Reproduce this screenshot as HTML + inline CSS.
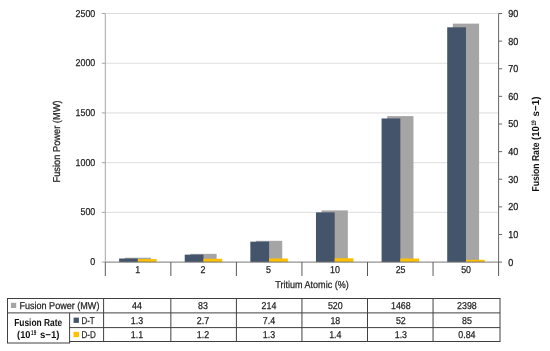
<!DOCTYPE html>
<html lang="en"><head><meta charset="utf-8"><title>Fusion Power vs Tritium Atomic</title>
<style>html,body{margin:0;padding:0;background:#fff}svg{display:block}text{font-family:"Liberation Sans",sans-serif;fill:#1f1f1f;stroke:#1f1f1f;stroke-width:.25px;text-rendering:geometricPrecision}.c{font-size:10.0px}.g{font-size:10.1px;fill:#111}.b{font-weight:bold;stroke-width:0}</style></head><body>
<svg width="550" height="351" viewBox="0 0 550 351">
<rect width="550" height="351" fill="#fff"/>
<line x1="105.3" x2="498.60" y1="212.38" y2="212.38" stroke="#dedede" stroke-width="1"/>
<line x1="105.3" x2="498.60" y1="162.66" y2="162.66" stroke="#dedede" stroke-width="1"/>
<line x1="105.3" x2="498.60" y1="112.94" y2="112.94" stroke="#dedede" stroke-width="1"/>
<line x1="105.3" x2="498.60" y1="63.22" y2="63.22" stroke="#dedede" stroke-width="1"/>
<line x1="105.3" x2="498.60" y1="13.50" y2="13.50" stroke="#dedede" stroke-width="1"/>
<rect x="124.74" y="257.72" width="26.25" height="4.38" fill="#a5a5a5"/>
<rect x="119.11" y="258.51" width="18.75" height="3.59" fill="#44546a"/>
<rect x="137.86" y="259.06" width="18.75" height="3.04" fill="#ffc000"/>
<rect x="190.36" y="253.85" width="26.25" height="8.25" fill="#a5a5a5"/>
<rect x="184.73" y="254.64" width="18.75" height="7.46" fill="#44546a"/>
<rect x="203.48" y="258.79" width="18.75" height="3.31" fill="#ffc000"/>
<rect x="255.98" y="240.82" width="26.25" height="21.28" fill="#a5a5a5"/>
<rect x="250.35" y="241.66" width="18.75" height="20.44" fill="#44546a"/>
<rect x="269.10" y="258.51" width="18.75" height="3.59" fill="#ffc000"/>
<rect x="321.60" y="210.39" width="26.25" height="51.71" fill="#a5a5a5"/>
<rect x="315.97" y="212.38" width="18.75" height="49.72" fill="#44546a"/>
<rect x="334.72" y="258.23" width="18.75" height="3.87" fill="#ffc000"/>
<rect x="387.22" y="116.12" width="26.25" height="145.98" fill="#a5a5a5"/>
<rect x="381.59" y="118.46" width="18.75" height="143.64" fill="#44546a"/>
<rect x="400.34" y="258.51" width="18.75" height="3.59" fill="#ffc000"/>
<rect x="452.84" y="23.64" width="26.25" height="238.46" fill="#a5a5a5"/>
<rect x="447.21" y="27.31" width="18.75" height="234.79" fill="#44546a"/>
<rect x="465.96" y="259.78" width="18.75" height="2.32" fill="#ffc000"/>
<line x1="105.3" x2="105.3" y1="13.5" y2="262.1" stroke="#a6a6a6" stroke-width="1"/>
<line x1="101.8" x2="105.3" y1="262.10" y2="262.10" stroke="#a6a6a6" stroke-width="1"/>
<text class="c" transform="translate(95.30 265.10) scale(0.886 1)" text-anchor="end">0</text>
<line x1="101.8" x2="105.3" y1="212.38" y2="212.38" stroke="#a6a6a6" stroke-width="1"/>
<text class="c" transform="translate(95.30 215.38) scale(0.886 1)" text-anchor="end">500</text>
<line x1="101.8" x2="105.3" y1="162.66" y2="162.66" stroke="#a6a6a6" stroke-width="1"/>
<text class="c" transform="translate(95.30 165.66) scale(0.886 1)" text-anchor="end">1000</text>
<line x1="101.8" x2="105.3" y1="112.94" y2="112.94" stroke="#a6a6a6" stroke-width="1"/>
<text class="c" transform="translate(95.30 115.94) scale(0.886 1)" text-anchor="end">1500</text>
<line x1="101.8" x2="105.3" y1="63.22" y2="63.22" stroke="#a6a6a6" stroke-width="1"/>
<text class="c" transform="translate(95.30 66.22) scale(0.886 1)" text-anchor="end">2000</text>
<line x1="101.8" x2="105.3" y1="13.50" y2="13.50" stroke="#a6a6a6" stroke-width="1"/>
<text class="c" transform="translate(95.30 16.50) scale(0.886 1)" text-anchor="end">2500</text>
<line x1="105.3" x2="498.60" y1="262.1" y2="262.1" stroke="#787878" stroke-width="1"/>
<line x1="498.60" x2="498.60" y1="13.5" y2="262.1" stroke="#666666" stroke-width="1"/>
<line x1="498.60" x2="502.10" y1="262.10" y2="262.10" stroke="#666666" stroke-width="1"/>
<text class="g" transform="translate(508.30 265.50) scale(0.89 1)">0</text>
<line x1="498.60" x2="502.10" y1="234.48" y2="234.48" stroke="#666666" stroke-width="1"/>
<text class="g" transform="translate(508.30 237.88) scale(0.89 1)">10</text>
<line x1="498.60" x2="502.10" y1="206.86" y2="206.86" stroke="#666666" stroke-width="1"/>
<text class="g" transform="translate(508.30 210.26) scale(0.89 1)">20</text>
<line x1="498.60" x2="502.10" y1="179.23" y2="179.23" stroke="#666666" stroke-width="1"/>
<text class="g" transform="translate(508.30 182.63) scale(0.89 1)">30</text>
<line x1="498.60" x2="502.10" y1="151.61" y2="151.61" stroke="#666666" stroke-width="1"/>
<text class="g" transform="translate(508.30 155.01) scale(0.89 1)">40</text>
<line x1="498.60" x2="502.10" y1="123.99" y2="123.99" stroke="#666666" stroke-width="1"/>
<text class="g" transform="translate(508.30 127.39) scale(0.89 1)">50</text>
<line x1="498.60" x2="502.10" y1="96.37" y2="96.37" stroke="#666666" stroke-width="1"/>
<text class="g" transform="translate(508.30 99.77) scale(0.89 1)">60</text>
<line x1="498.60" x2="502.10" y1="68.74" y2="68.74" stroke="#666666" stroke-width="1"/>
<text class="g" transform="translate(508.30 72.14) scale(0.89 1)">70</text>
<line x1="498.60" x2="502.10" y1="41.12" y2="41.12" stroke="#666666" stroke-width="1"/>
<text class="g" transform="translate(508.30 44.52) scale(0.89 1)">80</text>
<line x1="498.60" x2="502.10" y1="13.50" y2="13.50" stroke="#666666" stroke-width="1"/>
<text class="g" transform="translate(508.30 16.90) scale(0.89 1)">90</text>
<line x1="105.30" x2="105.30" y1="262.1" y2="276" stroke="#595959" stroke-width="1"/>
<line x1="170.85" x2="170.85" y1="262.1" y2="276" stroke="#595959" stroke-width="1"/>
<line x1="236.40" x2="236.40" y1="262.1" y2="276" stroke="#595959" stroke-width="1"/>
<line x1="301.95" x2="301.95" y1="262.1" y2="276" stroke="#595959" stroke-width="1"/>
<line x1="367.50" x2="367.50" y1="262.1" y2="276" stroke="#595959" stroke-width="1"/>
<line x1="433.05" x2="433.05" y1="262.1" y2="276" stroke="#595959" stroke-width="1"/>
<line x1="498.60" x2="498.60" y1="262.1" y2="276" stroke="#595959" stroke-width="1"/>
<text class="c" transform="translate(137.67 272.80) scale(0.886 1)" text-anchor="middle">1</text>
<text class="c" transform="translate(203.03 272.80) scale(0.886 1)" text-anchor="middle">2</text>
<text class="c" transform="translate(268.57 272.80) scale(0.886 1)" text-anchor="middle">5</text>
<text class="c" transform="translate(335.02 272.80) scale(0.886 1)" text-anchor="middle">10</text>
<text class="c" transform="translate(400.57 272.80) scale(0.886 1)" text-anchor="middle">25</text>
<text class="c" transform="translate(466.12 272.80) scale(0.886 1)" text-anchor="middle">50</text>
<text class="c" transform="translate(312.00 288.30) scale(0.9041 1)" text-anchor="middle">Tritium Atomic (%)</text>
<text class="c" transform="translate(59.90 141.50) rotate(-90) scale(0.9282 1)" text-anchor="middle">Fusion Power (MW)</text>
<g transform="translate(539.2 144) rotate(-90)">
<text class="g b" style="font-size:10px" transform="translate(-47.5 0) scale(0.8562 1)">Fusion Rate</text>
<text class="g b" style="font-size:10.2px" transform="translate(4.10 0.00) scale(0.9289 1)">(10</text>
<text class="g b" style="font-size:6.6px" transform="translate(18.41 -3.16) scale(0.71 1)">19</text>
<text class="g b" style="font-size:10.2px" transform="translate(27.50 0.00) scale(0.9628 1)">s−1)</text>
</g>
<line x1="7.0" x2="500.5" y1="298.5" y2="298.5" stroke="#404040" stroke-width="1"/>
<line x1="7.5" x2="500" y1="312.9" y2="312.9" stroke="#404040" stroke-width="1"/>
<line x1="69.6" x2="500" y1="327.6" y2="327.6" stroke="#404040" stroke-width="1"/>
<line x1="69.6" x2="500.5" y1="341.5" y2="341.5" stroke="#404040" stroke-width="1"/>
<line x1="7.0" x2="70.1" y1="343" y2="343" stroke="#404040" stroke-width="1"/>
<line x1="7.5" x2="7.5" y1="298.5" y2="343" stroke="#404040" stroke-width="1"/>
<line x1="69.6" x2="69.6" y1="312.9" y2="343" stroke="#404040" stroke-width="1"/>
<line x1="103.6" x2="103.6" y1="298.5" y2="341.5" stroke="#404040" stroke-width="1"/>
<line x1="500" x2="500" y1="298.5" y2="341.5" stroke="#404040" stroke-width="1"/>
<line x1="170.85" x2="170.85" y1="298.5" y2="341.5" stroke="#404040" stroke-width="1"/>
<line x1="236.40" x2="236.40" y1="298.5" y2="341.5" stroke="#404040" stroke-width="1"/>
<line x1="301.95" x2="301.95" y1="298.5" y2="341.5" stroke="#404040" stroke-width="1"/>
<line x1="367.50" x2="367.50" y1="298.5" y2="341.5" stroke="#404040" stroke-width="1"/>
<line x1="433.05" x2="433.05" y1="298.5" y2="341.5" stroke="#404040" stroke-width="1"/>
<text class="c" transform="translate(136.97 309.20) scale(0.886 1)" text-anchor="middle">44</text>
<text class="c" transform="translate(136.97 324.00) scale(0.886 1)" text-anchor="middle">1.3</text>
<text class="c" transform="translate(136.97 338.40) scale(0.886 1)" text-anchor="middle">1.1</text>
<text class="c" transform="translate(202.92 309.20) scale(0.886 1)" text-anchor="middle">83</text>
<text class="c" transform="translate(202.92 324.00) scale(0.886 1)" text-anchor="middle">2.7</text>
<text class="c" transform="translate(202.92 338.40) scale(0.886 1)" text-anchor="middle">1.2</text>
<text class="c" transform="translate(268.98 309.20) scale(0.886 1)" text-anchor="middle">214</text>
<text class="c" transform="translate(268.98 324.00) scale(0.886 1)" text-anchor="middle">7.4</text>
<text class="c" transform="translate(268.98 338.40) scale(0.886 1)" text-anchor="middle">1.3</text>
<text class="c" transform="translate(335.32 309.20) scale(0.886 1)" text-anchor="middle">520</text>
<text class="c" transform="translate(335.32 324.00) scale(0.886 1)" text-anchor="middle">18</text>
<text class="c" transform="translate(335.32 338.40) scale(0.886 1)" text-anchor="middle">1.4</text>
<text class="c" transform="translate(400.87 309.20) scale(0.886 1)" text-anchor="middle">1468</text>
<text class="c" transform="translate(400.87 324.00) scale(0.886 1)" text-anchor="middle">52</text>
<text class="c" transform="translate(400.87 338.40) scale(0.886 1)" text-anchor="middle">1.3</text>
<text class="c" transform="translate(466.92 309.20) scale(0.886 1)" text-anchor="middle">2398</text>
<text class="c" transform="translate(466.92 324.00) scale(0.886 1)" text-anchor="middle">85</text>
<text class="c" transform="translate(466.92 338.40) scale(0.886 1)" text-anchor="middle">0.84</text>
<rect x="11" y="302.8" width="5.2" height="5.2" fill="#a5a5a5"/>
<text class="c" transform="translate(19.40 309.20) scale(0.9055 1)">Fusion Power (MW)</text>
<rect x="73.6" y="317.6" width="5.3" height="5.3" fill="#44546a"/>
<text class="c" transform="translate(81.50 323.80) scale(0.7923 1)">D-T</text>
<rect x="73.5" y="331.8" width="5.5" height="5.3" fill="#ffc000"/>
<text class="c" transform="translate(81.50 338.10) scale(0.8046 1)">D-D</text>
<text class="g b" style="font-size:10.3px" text-anchor="middle" transform="translate(38.2 325.6) scale(0.8143 1)">Fusion Rate</text>
<text class="g b" style="font-size:10.0px" transform="translate(17.10 337.60) scale(0.9271 1)">(10</text>
<text class="g b" style="font-size:7.0px" transform="translate(31.10 334.50) scale(0.655 1)">19</text>
<text class="g b" style="font-size:10.0px" transform="translate(40.00 337.60) scale(0.9609 1)">s−1)</text>
</svg></body></html>
